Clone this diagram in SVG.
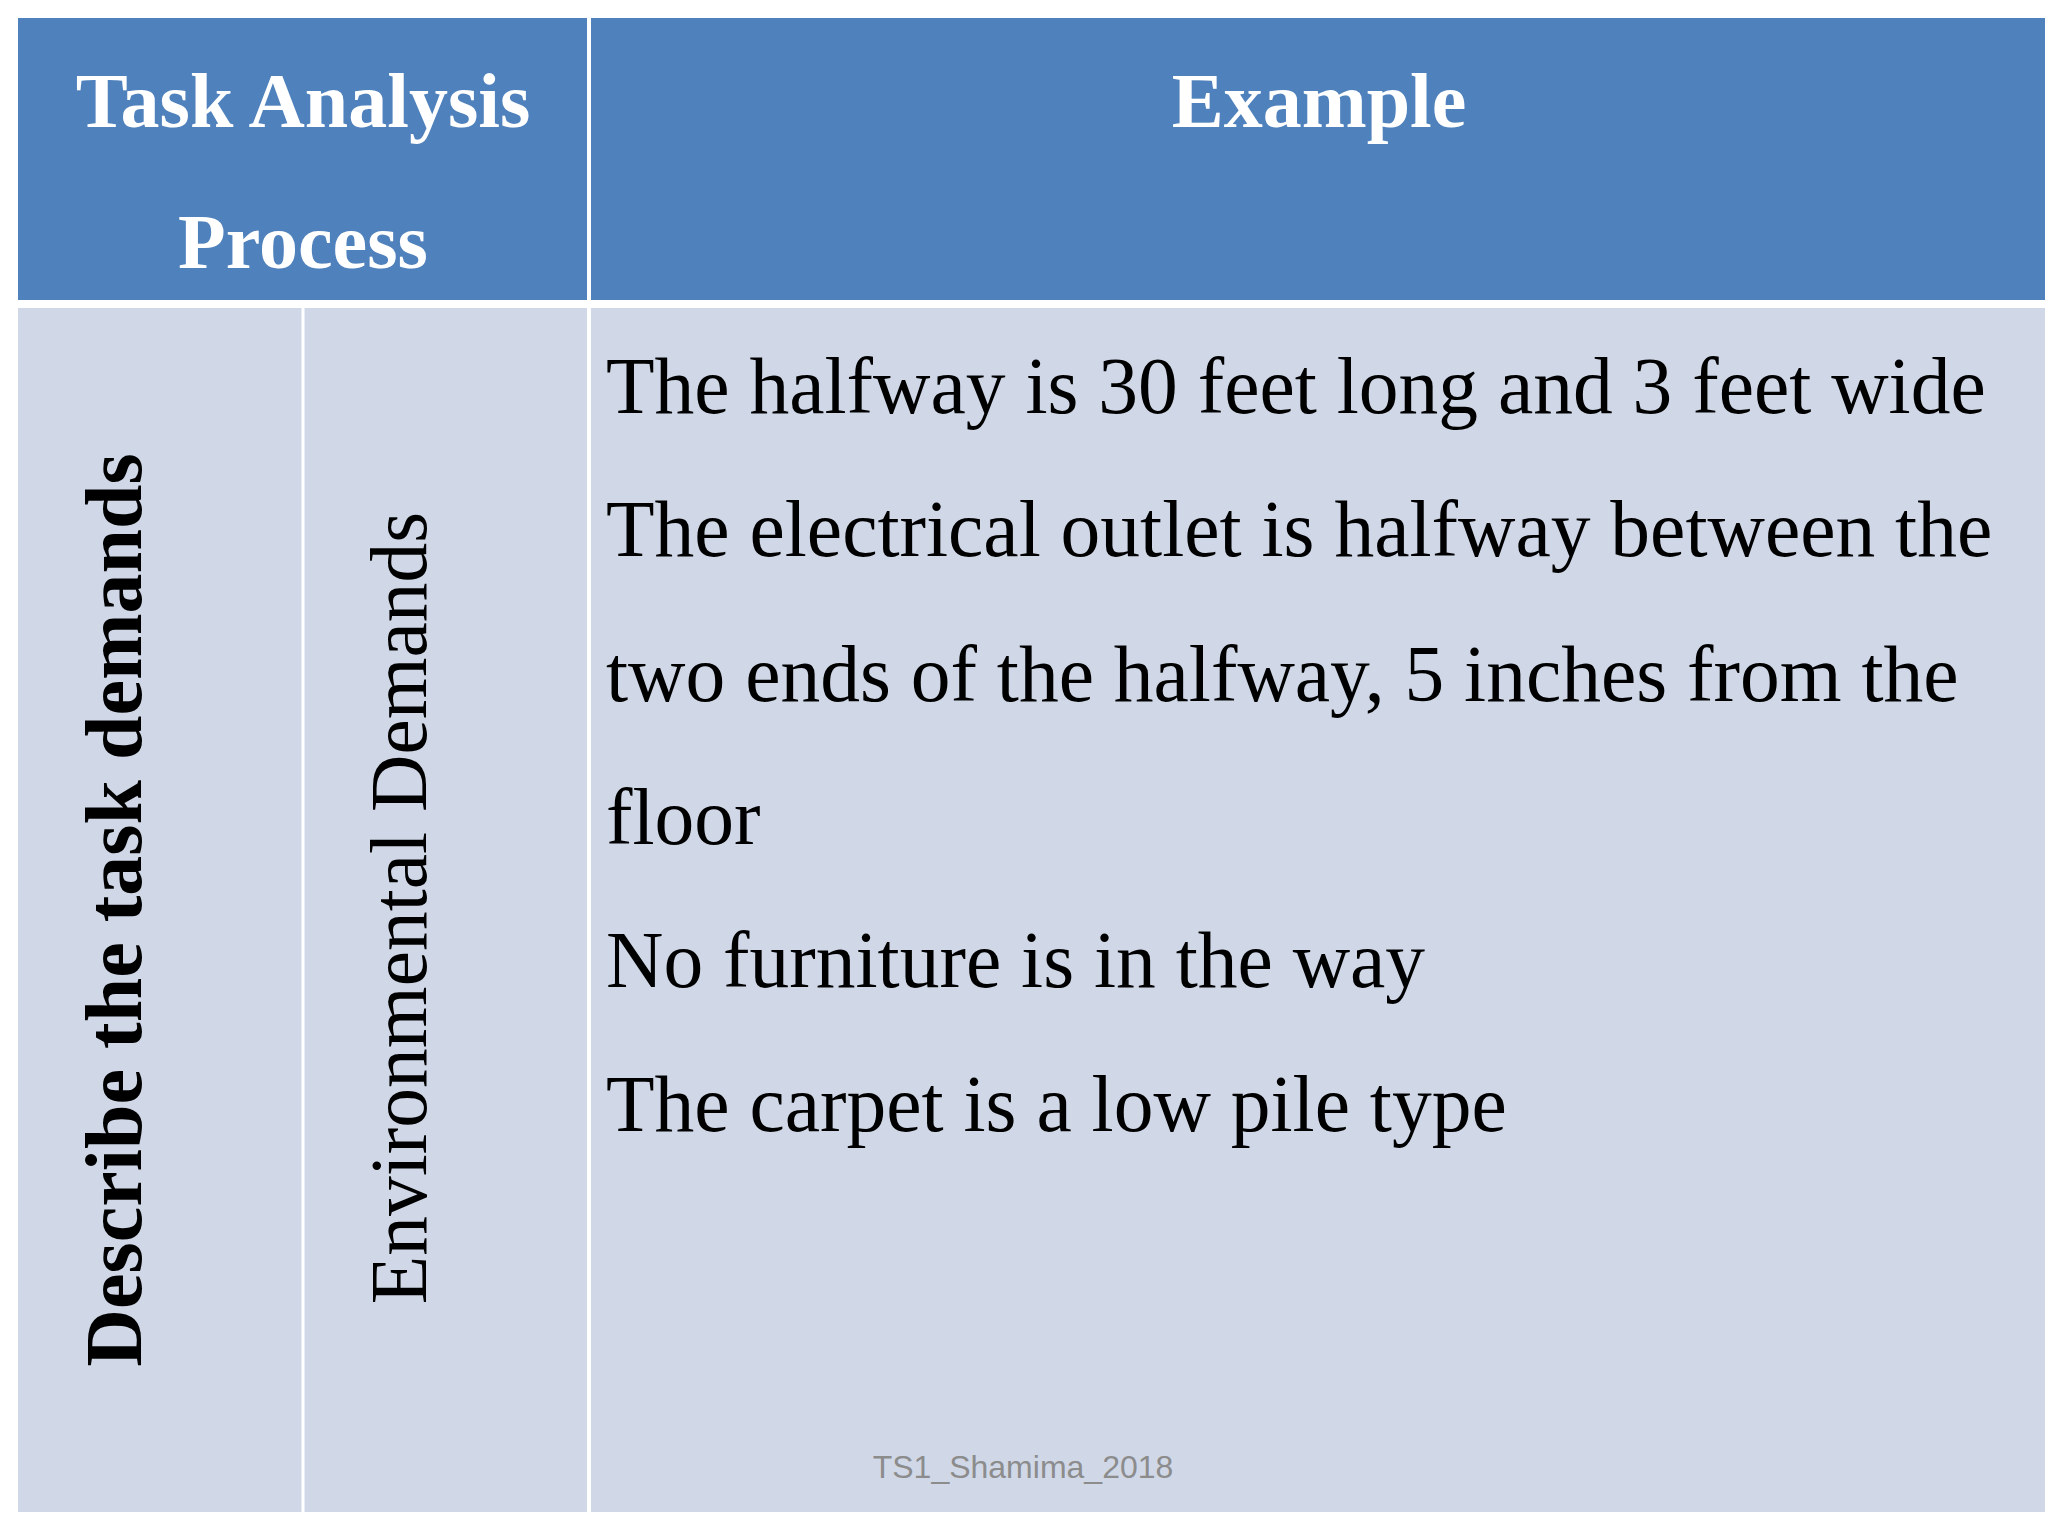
<svg xmlns="http://www.w3.org/2000/svg" width="2048" height="1536" viewBox="0 0 2048 1536">
<style>
.h{fill:#fff;font-family:"Liberation Serif",serif;font-weight:bold;font-size:78px;text-anchor:middle}
.b{fill:#000;font-family:"Liberation Serif",serif;font-size:79.5px}
</style>
<rect width="2048" height="1536" fill="#fff"/>
<g id="header">
<rect x="18" y="18" width="2027" height="282" fill="#4F81BD"/>
<line x1="589" y1="18" x2="589" y2="300" stroke="#fff" stroke-width="4"/>
<text class="h" x="303" y="127">Task Analysis</text>
<text class="h" x="303" y="268">Process</text>
<text class="h" x="1319" y="127">Example</text>
</g>
<g id="body">
<rect x="18" y="308" width="2027" height="1204" fill="#D0D8E8"/>
<line x1="303" y1="308" x2="303" y2="1512" stroke="#fff" stroke-width="3"/>
<line x1="589" y1="308" x2="589" y2="1512" stroke="#fff" stroke-width="4"/>
<text x="141" y="910" transform="rotate(-90 141 910)" text-anchor="middle" style="font-family:'Liberation Serif',serif;font-weight:bold;font-size:80px">Describe the task demands</text>
<text x="426" y="908" transform="rotate(-90 426 908)" text-anchor="middle" style="font-family:'Liberation Serif',serif;font-size:79.5px">Environmental Demands</text>
<text class="b" x="606" y="413">The halfway is 30 feet long and 3 feet wide</text>
<text class="b" x="606" y="556">The electrical outlet is halfway between the</text>
<text class="b" x="606" y="701">two ends of the halfway, 5 inches from the</text>
<text class="b" x="606" y="844">floor</text>
<text class="b" x="606" y="987">No furniture is in the way</text>
<text class="b" x="606" y="1131">The carpet is a low pile type</text>
<text x="1023" y="1478" text-anchor="middle" fill="#8c8c8c" style="font-family:'Liberation Sans',sans-serif;font-size:32px">TS1_Shamima_2018</text>
</g>
</svg>
